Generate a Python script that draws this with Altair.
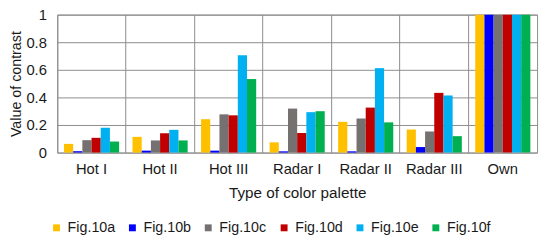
import altair as alt
import pandas as pd

categories = ["Hot I", "Hot II", "Hot III", "Radar I", "Radar II", "Radar III", "Own"]
series = ["Fig.10a", "Fig.10b", "Fig.10c", "Fig.10d", "Fig.10e", "Fig.10f"]
colors = ["#FFC000", "#0000FF", "#767171", "#C00000", "#00B0F0", "#00B050"]

fig10a = [0.063, 0.114, 0.242, 0.074, 0.223, 0.167, 1.0]
fig10b = [0.010, 0.014, 0.014, 0.009, 0.009, 0.040, 1.0]
fig10c = [0.090, 0.088, 0.277, 0.319, 0.247, 0.153, 1.0]
fig10d = [0.107, 0.140, 0.270, 0.142, 0.326, 0.433, 1.0]
fig10e = [0.180, 0.165, 0.705, 0.293, 0.612, 0.414, 1.0]
fig10f = [0.080, 0.088, 0.533, 0.300, 0.219, 0.119, 1.0]

y_ticks = [0, 0.2, 0.4, 0.6, 0.8, 1]

values = [fig10a, fig10b, fig10c, fig10d, fig10e, fig10f]
rows = []
for s, vals in zip(series, values):
    for c, v in zip(categories, vals):
        rows.append({"palette": c, "series": s, "value": v})
df = pd.DataFrame(rows)

FONT = "Liberation Sans"
GRID = "#8c8c8c"
TEXT = "#1a1a1a"

chart = alt.Chart(df).mark_bar().encode(
    x=alt.X(
        "palette:N",
        sort=categories,
        scale=alt.Scale(paddingInner=0, paddingOuter=0),
        axis=alt.Axis(
            title="Type of color palette",
            labelAngle=0,
            ticks=False,
            domain=False,
            grid=True,
            gridColor=GRID,
            gridOpacity=1,
            bandPosition=0,
            labelFontSize=15,
            labelPadding=9,
            labelColor=TEXT,
            titleFontSize=15.5,
            titleFontWeight="normal",
            titleColor=TEXT,
            titlePadding=10,
            labelFont=FONT,
            titleFont=FONT,
        ),
    ),
    xOffset=alt.XOffset(
        "series:N",
        sort=series,
        scale=alt.Scale(paddingInner=0, paddingOuter=0.73),
    ),
    y=alt.Y(
        "value:Q",
        scale=alt.Scale(domain=[0, 1], nice=False),
        axis=alt.Axis(
            title="Value of contrast",
            values=y_ticks,
            format="~g",
            ticks=False,
            domain=False,
            grid=True,
            gridColor=GRID,
            gridOpacity=1,
            labelFontSize=15,
            labelPadding=11,
            labelColor=TEXT,
            titleFontSize=14.5,
            titleFontWeight="normal",
            titleColor=TEXT,
            titlePadding=2,
            labelFont=FONT,
            titleFont=FONT,
        ),
    ),
    color=alt.Color(
        "series:N",
        sort=series,
        scale=alt.Scale(domain=series, range=colors),
        legend=alt.Legend(
            title=None,
            orient="none",
            direction="horizontal",
            legendX=-8,
            legendY=209,
            symbolType="square",
            symbolSize=49,
            symbolStrokeWidth=0,
            labelFontSize=14.5,
            labelFont=FONT,
            labelColor=TEXT,
            labelOffset=4,
            columnPadding=10,
            padding=0,
        ),
    ),
).properties(
    width=487,
    height=140,
    padding={"left": 50, "top": 5, "right": 5, "bottom": 87},
    autosize=alt.AutoSizeParams(type="none"),
).configure_view(
    stroke=GRID,
    strokeWidth=1,
)

chart.save("out.html", embed_options={"renderer": "svg", "actions": False})
